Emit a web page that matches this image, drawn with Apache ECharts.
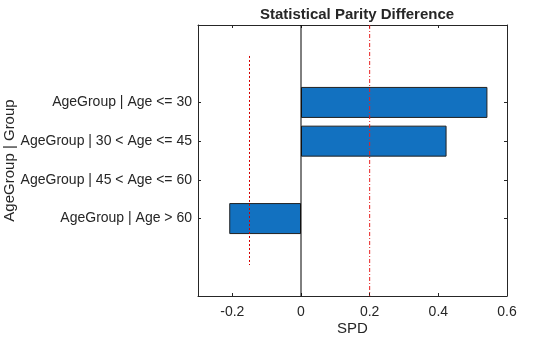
<!DOCTYPE html>
<html>
<head>
<meta charset="utf-8">
<script src="https://cdn.jsdelivr.net/npm/echarts@6/dist/echarts.min.js"></script>
<style>
  html, body { margin: 0; padding: 0; background: #fff; }
  #chart { width: 560px; height: 337px; }
</style>
</head>
<body>
<div id="chart"></div>
<script>
// Group labels (top to bottom) with padding slots above and below
const groups = ['', '', 'AgeGroup | Age <= 30', 'AgeGroup | 30 < Age <= 45', 'AgeGroup | 45 < Age <= 60', 'AgeGroup | Age > 60', '', ''];
// Statistical parity difference per group
const spdValues = [null, null, 0.543, 0.424, 0, -0.209, null, null];
// Reference lines
const lowerThreshold = -0.15;
const upperThreshold = 0.2;
const xTicks = [-0.2, 0, 0.2, 0.4, 0.6];
const slotTicks = [2, 3, 4, 5];

const ink = '#262626';
const font = 'Liberation Sans, Arial, sans-serif';

const chart = echarts.init(document.getElementById('chart'), null, { renderer: 'canvas' });

const xCommon = {
  type: 'value', min: -0.3, max: 0.6,
  splitLine: { show: false },
  axisLine: { show: true, onZero: false, lineStyle: { color: ink, width: 1 } },
  axisTick: { show: true, inside: true, length: 3, customValues: xTicks, lineStyle: { color: ink } }
};

// zero-length bars get no outline
const barData = spdValues.map(v => (v === 0 ? { value: v, itemStyle: { borderWidth: 0 } } : v));

chart.setOption({
  animation: false,
  title: {
    text: 'Statistical Parity Difference',
    left: 352, textAlign: 'center', top: 2,
    textStyle: { fontFamily: font, fontSize: 15, fontWeight: 'bold', color: ink }
  },
  grid: { left: 198, right: 53, top: 25, bottom: 41, containLabel: false, outerBoundsMode: 'none' },
  xAxis: [
    Object.assign({}, xCommon, {
      position: 'bottom',
      name: 'SPD', nameLocation: 'middle', nameGap: 25, nameMoveOverlap: false,
      nameTextStyle: { fontFamily: font, fontSize: 15, color: ink },
      axisLabel: {
        customValues: xTicks, margin: 9,
        fontFamily: font, fontSize: 14, color: ink,
        formatter: v => (Math.round(v * 10) / 10).toString()
      }
    }),
    Object.assign({}, xCommon, { position: 'top', axisLabel: { show: false } })
  ],
  yAxis: [
    {
      type: 'category', data: groups, inverse: true, boundaryGap: false,
      position: 'left',
      name: 'AgeGroup | Group', nameLocation: 'middle', nameGap: 181, nameMoveOverlap: false,
      nameTextStyle: { fontFamily: font, fontSize: 15, color: ink },
      axisLine: { show: true, onZero: false, lineStyle: { color: ink } },
      axisTick: { show: true, inside: true, length: 3, alignWithLabel: true,
        interval: (i, v) => v !== '', lineStyle: { color: ink } },
      axisLabel: { margin: 6, fontFamily: font, fontSize: 14, color: ink,
        interval: (i, v) => v !== '' },
      splitLine: { show: false }
    },
    {
      type: 'value', min: 0, max: 7, inverse: true, position: 'right',
      axisLine: { show: true, onZero: false, lineStyle: { color: ink } },
      axisTick: { show: true, inside: true, length: 3, customValues: slotTicks, lineStyle: { color: ink } },
      axisLabel: { show: false },
      splitLine: { show: false }
    }
  ],
  series: [
    {
      type: 'bar', xAxisIndex: 0, yAxisIndex: 0,
      data: barData, barWidth: 31,
      itemStyle: { color: '#1271c0', borderColor: '#222', borderWidth: 1 },
      z: 2
    },
    {
      type: 'line', xAxisIndex: 0, yAxisIndex: 1, symbol: 'none', silent: true,
      data: [[0, 0], [0, 7]],
      lineStyle: { color: '#000', width: 1 }, z: 3
    },
    {
      type: 'line', xAxisIndex: 0, yAxisIndex: 1, symbol: 'none', silent: true,
      data: [[lowerThreshold, 0.8], [lowerThreshold, 6.2]],
      lineStyle: { color: '#d40000', width: 1, type: [2, 2] }, z: 4
    },
    {
      type: 'line', xAxisIndex: 0, yAxisIndex: 1, symbol: 'none', silent: true,
      data: [[upperThreshold, 0], [upperThreshold, 7]],
      lineStyle: { color: '#e82020', width: 1, type: [4, 2, 1, 2] }, z: 4
    }
  ]
});
</script>
</body>
</html>
